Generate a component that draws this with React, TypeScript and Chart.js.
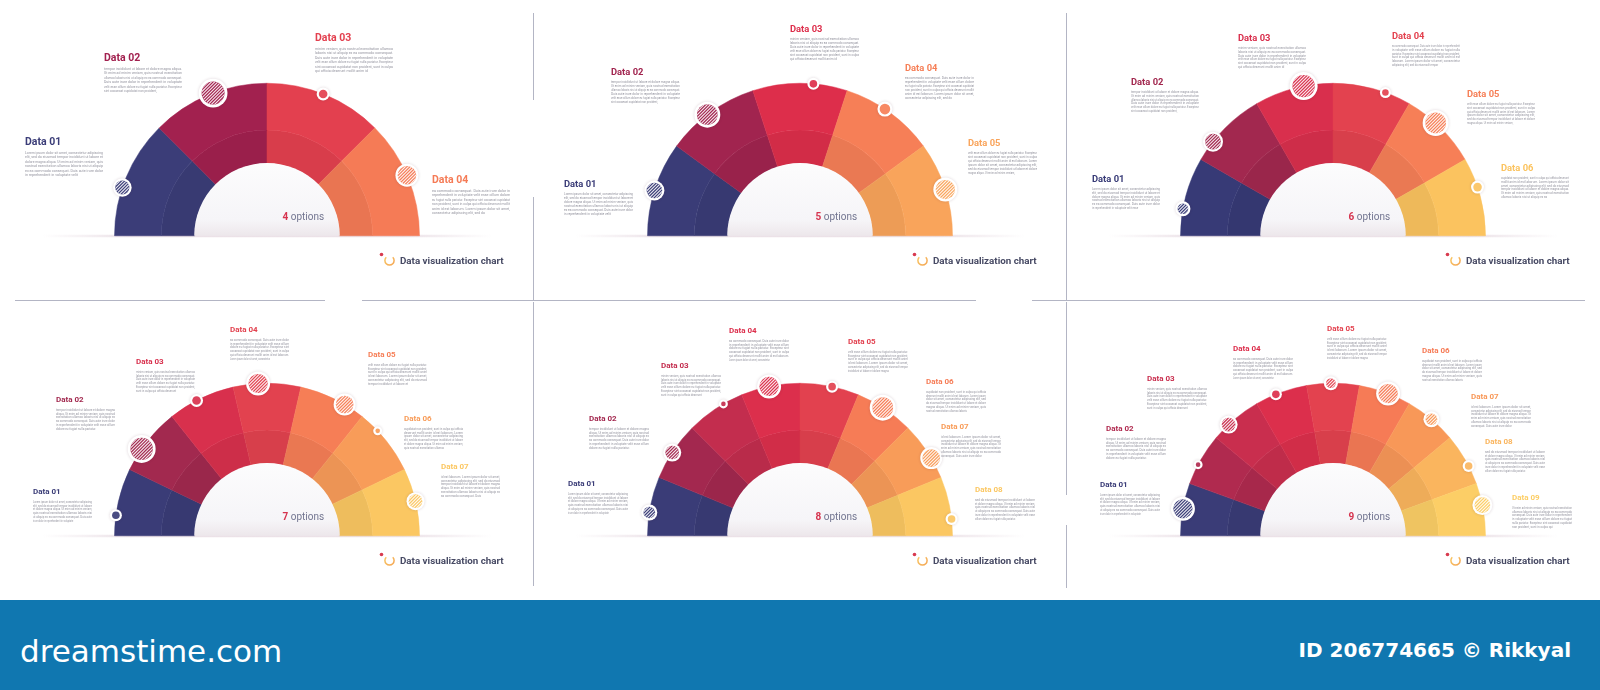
import React, { useEffect, useRef } from "react";
import { Chart, registerables } from "chart.js";

Chart.register(...registerables);

// ---------------- data ----------------
const categories4 = ["Data 01", "Data 02", "Data 03", "Data 04"];
const categories5 = ["Data 01", "Data 02", "Data 03", "Data 04", "Data 05"];
const categories6 = ["Data 01", "Data 02", "Data 03", "Data 04", "Data 05", "Data 06"];
const categories7 = ["Data 01", "Data 02", "Data 03", "Data 04", "Data 05", "Data 06", "Data 07"];
const categories8 = ["Data 01", "Data 02", "Data 03", "Data 04", "Data 05", "Data 06", "Data 07", "Data 08"];
const categories9 = ["Data 01", "Data 02", "Data 03", "Data 04", "Data 05", "Data 06", "Data 07", "Data 08", "Data 09"];

const values4 = [1, 1, 1, 1];
const values5 = [1, 1, 1, 1, 1];
const values6 = [1, 1, 1, 1, 1, 1];
const values7 = [1, 1, 1, 1, 1, 1, 1];
const values8 = [1, 1, 1, 1, 1, 1, 1, 1];
const values9 = [1, 1, 1, 1, 1, 1, 1, 1, 1];

const optionCounts = [4, 5, 6, 7, 8, 9];

const optionsWord = "options";
const footerTitle = "Data visualization chart";
const bannerBrand = "dreamstime.com";
const bannerCredit = "ID 206774665 © Rikkyal";
const LOREM =
  "Lorem ipsum dolor sit amet, consectetur adipiscing elit, sed do eiusmod tempor incididunt ut labore et dolore magna aliqua. Ut enim ad minim veniam, quis nostrud exercitation ullamco laboris nisi ut aliquip ex ea commodo consequat. Duis aute irure dolor in reprehenderit in voluptate velit esse cillum dolore eu fugiat nulla pariatur. Excepteur sint occaecat cupidatat non proident, sunt in culpa qui officia deserunt mollit anim id est laborum.";

// ---------------- styles ----------------
const palette4 = ["#3b3d78", "#a2214f", "#e3404f", "#f57b56"];
const palette5 = ["#3a3c77", "#a1244f", "#dd2e4b", "#f67f57", "#f9a45b"];
const palette6 = ["#373a76", "#a2284f", "#d92f4d", "#e3424f", "#f67f57", "#fbc35f"];
const palette7 = ["#3a3c77", "#a2294f", "#d8304d", "#e2424f", "#f67e56", "#f89c59", "#fbc762"];
const palette8 = ["#3a3c77", "#a3284f", "#c32d4e", "#dc2f4c", "#e2414f", "#f67c56", "#f89c59", "#fbc762"];
const palette9 = ["#3a3c77", "#b02a4f", "#c92e4e", "#dc2f4c", "#e3424f", "#f67b56", "#f89858", "#fab55e", "#fcce66"];

const PANEL_W = 533;
const PANEL_H = 300;
const CX = 267;
const CY = 236;
const R_OUT = 153;
const R_IN = 72.5;

type Bubble = [number, number, number]; // fraction along segment, radius, hatched
interface PanelCfg {
  ox: number;
  oy: number;
  categories: string[];
  values: number[];
  count: number;
  colors: string[];
  titleSize: number;
  paraW: number;
  paraGap: number;
  paraOff: number;
  labelPos: [number, number][];
  bubbles: Bubble[];
}

const panels: PanelCfg[] = [
  {
    ox: 0, oy: 0, categories: categories4, values: values4, count: optionCounts[0], colors: palette4,
    titleSize: 10.5, paraW: 78, paraGap: 4.5, paraOff: 11,
    labelPos: [[25, 142], [104, 58], [315, 38], [432, 180]],
    bubbles: [[0.41, 9.3, 1], [0.54, 14.4, 1], [0.48, 6.5, 0], [0.48, 11.5, 1]],
  },
  {
    ox: 533, oy: 0, categories: categories5, values: values5, count: optionCounts[1], colors: palette5,
    titleSize: 9.4, paraW: 69, paraGap: 4, paraOff: 10,
    labelPos: [[31, 184], [78, 72], [257, 29], [372, 68], [435, 143]],
    bubbles: [[0.48, 10, 1], [0.46, 13, 1], [0.64, 6, 0], [0.44, 7.5, 0], [0.51, 12, 1]],
  },
  {
    ox: 1066, oy: 0, categories: categories6, values: values6, count: optionCounts[2], colors: palette6,
    titleSize: 9.4, paraW: 68, paraGap: 3.9, paraOff: 10,
    labelPos: [[26, 179], [65, 82], [172, 38], [326, 36], [401, 94], [435, 168]],
    bubbles: [[0.34, 7.5, 1], [0.27, 10, 1], [0.63, 14, 1], [0.67, 5.5, 0], [0.41, 13, 1], [0.38, 6.5, 0]],
  },
  {
    ox: 0, oy: 300, categories: categories7, values: values7, count: optionCounts[3], colors: palette7,
    titleSize: 8, paraW: 59, paraGap: 3.8, paraOff: 10,
    labelPos: [[33, 192], [56, 100], [136, 62], [230, 30], [368, 55], [404, 119], [441, 167]],
    bubbles: [[0.3, 6, 0], [0.35, 14, 1], [0.43, 6.5, 0], [0.37, 12, 1], [0.69, 11, 1], [0.31, 4.5, 0], [0.49, 9, 1]],
  },
  {
    ox: 533, oy: 300, categories: categories8, values: values8, count: optionCounts[4], colors: palette8,
    titleSize: 8, paraW: 60, paraGap: 3.8, paraOff: 10,
    labelPos: [[35, 184], [56, 119], [128, 66], [196, 31], [315, 42], [393, 82], [408, 127], [442, 190]],
    bubbles: [[0.39, 8, 1], [0.47, 9, 1], [0.66, 4.5, 0], [0.48, 12, 1], [0.54, 6, 0], [0.46, 13, 1], [0.64, 11, 1], [0.72, 6, 0]],
  },
  {
    ox: 1066, oy: 300, categories: categories9, values: values9, count: optionCounts[5], colors: palette9,
    titleSize: 8, paraW: 60, paraGap: 3.8, paraOff: 10,
    labelPos: [[34, 185], [40, 129], [81, 79], [167, 49], [261, 29], [356, 51], [405, 97], [419, 142], [446, 198]],
    bubbles: [[0.51, 12, 1], [0.39, 4.5, 0], [0.34, 9, 1], [0.4, 6, 0], [0.46, 7, 1], [0.56, 12, 1], [0.51, 8, 1], [0.64, 6, 0], [0.42, 10, 1]],
  },
];

function shade(hex: string, amt: number): string {
  const n = parseInt(hex.slice(1), 16);
  let r = (n >> 16) & 255, g = (n >> 8) & 255, b = n & 255;
  if (amt < 0) {
    r *= 1 + amt; g *= 1 + amt; b *= 1 + amt;
  } else {
    r += (255 - r) * amt; g += (255 - g) * amt; b += (255 - b) * amt;
  }
  const h = (v: number) => Math.round(v).toString(16).padStart(2, "0");
  return "#" + h(r) + h(g) + h(b);
}

function drawBubble(ctx: CanvasRenderingContext2D, x: number, y: number, rad: number, color: string, hatched: number) {
  ctx.save();
  ctx.shadowColor = "rgba(70,30,50,0.18)";
  ctx.shadowBlur = 3;
  ctx.beginPath();
  ctx.arc(x, y, rad, 0, Math.PI * 2);
  ctx.fillStyle = "#ffffff";
  ctx.fill();
  ctx.shadowColor = "transparent";
  ctx.shadowBlur = 0;
  const inner = rad - Math.max(2.2, rad * 0.2);
  ctx.beginPath();
  ctx.arc(x, y, inner, 0, Math.PI * 2);
  ctx.clip();
  ctx.fillStyle = hatched ? color : shade(color, 0.08);
  ctx.fillRect(x - rad, y - rad, rad * 2, rad * 2);
  if (hatched) {
    ctx.strokeStyle = "rgba(255,255,255,0.9)";
    ctx.lineWidth = 1.1;
    const step = 3.2;
    for (let k = -2 * rad; k <= 2 * rad; k += step) {
      ctx.beginPath();
      ctx.moveTo(x + k - rad, y + rad);
      ctx.lineTo(x + k + rad, y - rad);
      ctx.stroke();
    }
  }
  ctx.restore();
}

function makeDecor(cfg: PanelCfg) {
  return {
    id: "decor",
    beforeDatasetsDraw(chart: any) {
      const ctx: CanvasRenderingContext2D = chart.ctx;
      const a = chart.getDatasetMeta(0).data[0];
      const cx = a.x, cy = a.y;
      ctx.save();
      const g = ctx.createLinearGradient(cx - 225, 0, cx + 225, 0);
      g.addColorStop(0, "rgba(232,220,227,0)");
      g.addColorStop(0.2, "rgba(232,220,227,0.85)");
      g.addColorStop(0.8, "rgba(232,220,227,0.85)");
      g.addColorStop(1, "rgba(232,220,227,0)");
      ctx.fillStyle = g;
      ctx.fillRect(cx - 225, cy - 1, 450, 2.5);
      ctx.restore();
    },
    afterDatasetsDraw(chart: any) {
      const ctx: CanvasRenderingContext2D = chart.ctx;
      const outerMeta = chart.getDatasetMeta(0);
      const innerMeta = chart.getDatasetMeta(chart.data.datasets.length - 1);
      const a0 = outerMeta.data[0];
      const cx = a0.x, cy = a0.y;
      const ir = innerMeta.data[0].innerRadius;
      // hole
      ctx.save();
      const hg = ctx.createLinearGradient(0, cy - ir, 0, cy);
      hg.addColorStop(0, "#fcfcfd");
      hg.addColorStop(0.78, "#f6f5f8");
      hg.addColorStop(1, "#ede7eb");
      ctx.beginPath();
      ctx.moveTo(cx - ir - 0.5, cy);
      ctx.arc(cx, cy, ir + 0.5, Math.PI, 2 * Math.PI);
      ctx.closePath();
      ctx.fillStyle = hg;
      ctx.fill();
      ctx.restore();
      // bubbles on the outer arc
      outerMeta.data.forEach((el: any, i: number) => {
        const b = cfg.bubbles[i];
        if (!b) return;
        const [f, rad, hatched] = b;
        const ang = el.startAngle + (el.endAngle - el.startAngle) * f;
        const rr = el.outerRadius;
        drawBubble(ctx, cx + Math.cos(ang) * rr, cy + Math.sin(ang) * rr, rad, cfg.colors[i], hatched);
      });
      // placeholder paragraphs
      ctx.save();
      const fs = cfg.paraGap * 0.82;
      ctx.font = `${fs}px Roboto, sans-serif`;
      ctx.fillStyle = "#94949f";
      ctx.textBaseline = "middle";
      const words = LOREM.split(" ");
      cfg.labelPos.forEach((lp, i) => {
        let wi = (i * 11) % words.length;
        for (let k = 0; k < 6; k++) {
          const maxW = k === 5 ? cfg.paraW * 0.68 : cfg.paraW;
          let s = "";
          while (ctx.measureText(s).width < maxW) {
            s += (s ? " " : "") + words[wi % words.length];
            wi++;
          }
          ctx.fillText(s, lp[0], lp[1] + cfg.paraOff + k * cfg.paraGap, maxW);
        }
      });
      ctx.restore();
      // footer icon
      ctx.save();
      const ig = ctx.createLinearGradient(384, 256, 394, 265);
      ig.addColorStop(0, "#f8c962");
      ig.addColorStop(1, "#f4a552");
      ctx.strokeStyle = ig;
      ctx.lineWidth = 1.5;
      ctx.beginPath();
      ctx.arc(389.5, 260.5, 4.6, -0.25 * Math.PI, 1.25 * Math.PI);
      ctx.stroke();
      ctx.beginPath();
      ctx.arc(381.5, 254.5, 1.8, 0, Math.PI * 2);
      ctx.fillStyle = "#d83a4f";
      ctx.fill();
      ctx.restore();
    },
  };
}

function Panel({ cfg }: { cfg: PanelCfg }) {
  const ref = useRef<HTMLCanvasElement>(null);
  useEffect(() => {
    const canvas = ref.current!;
    const outerColors = cfg.colors;
    const innerColors = cfg.colors.map((c) => shade(c, -0.05));
    const chart = new Chart(canvas, {
      type: "doughnut",
      data: {
        labels: cfg.categories,
        datasets: [
          { data: cfg.values, backgroundColor: outerColors, borderColor: outerColors, borderWidth: 0.5, weight: 47 } as any,
          { data: cfg.values, backgroundColor: innerColors, borderColor: innerColors, borderWidth: 0.5, weight: 33.5 } as any,
        ],
      },
      options: {
        responsive: false,
        animation: false,
        events: [],
        rotation: -90,
        circumference: 180,
        cutout: `${(R_IN / R_OUT) * 100}%`,
        layout: {
          padding: {
            left: CX - R_OUT,
            right: PANEL_W - CX - R_OUT,
            top: CY - R_OUT,
            bottom: PANEL_H - CY,
          },
        },
        plugins: { legend: { display: false }, tooltip: { enabled: false } },
      } as any,
      plugins: [makeDecor(cfg) as any],
    });
    return () => chart.destroy();
  }, [cfg]);

  return (
    <div style={{ position: "absolute", left: cfg.ox, top: cfg.oy, width: PANEL_W, height: PANEL_H }}>
      <canvas ref={ref} width={PANEL_W} height={PANEL_H} style={{ position: "absolute", left: 0, top: 0, width: PANEL_W, height: PANEL_H, display: "block" }} />
      {cfg.categories.map((c, i) => (
        <div
          key={c}
          style={{
            position: "absolute",
            left: cfg.labelPos[i][0],
            top: cfg.labelPos[i][1] - cfg.titleSize * 0.6,
            fontSize: cfg.titleSize,
            lineHeight: 1.2,
            fontWeight: 700,
            color: cfg.colors[i],
            whiteSpace: "nowrap",
            fontFamily: "Roboto, sans-serif",
          }}
        >
          {c}
        </div>
      ))}
      <div
        style={{
          position: "absolute",
          left: 282.5,
          top: 217 - 6,
          fontSize: 10,
          lineHeight: "12px",
          whiteSpace: "nowrap",
          fontFamily: "Roboto, sans-serif",
          color: "#727590",
        }}
      >
        <span style={{ color: "#d6334e", fontWeight: 700 }}>{cfg.count}</span> {optionsWord}
      </div>
      <div
        style={{
          position: "absolute",
          left: 400,
          top: 260.5 - 6,
          fontSize: 9.8,
          lineHeight: "12px",
          fontWeight: 700,
          whiteSpace: "nowrap",
          fontFamily: "Roboto, sans-serif",
          color: "#474a64",
        }}
      >
        {footerTitle}
      </div>
    </div>
  );
}

const lineColor = "#b3b5c4";

export default function App() {
  const seps: [number, number, number, number][] = [
    // x, y, w, h
    [532.5, 13, 1.6, 87],
    [532.5, 197, 1.6, 103],
    [532.5, 302, 1.6, 284],
    [1065.5, 13, 1.6, 287],
    [1065.5, 302, 1.6, 193],
    [1065.5, 525, 1.6, 63],
    [15, 299.5, 310, 1.6],
    [362, 299.5, 614, 1.6],
    [1032, 299.5, 553, 1.6],
  ];
  return (
    <div
      style={{
        position: "absolute",
        left: 0,
        top: 0,
        width: 1600,
        height: 690,
        background: "#ffffff",
        overflow: "hidden",
        fontFamily: "Roboto, sans-serif",
      }}
    >
      {panels.map((p, i) => (
        <Panel key={i} cfg={p} />
      ))}
      {seps.map((s, i) => (
        <div key={"s" + i} style={{ position: "absolute", left: s[0], top: s[1], width: s[2], height: s[3], background: lineColor }} />
      ))}
      <div style={{ position: "absolute", left: 0, top: 600, width: 1600, height: 90, background: "#1077b0" }}>
        <div
          style={{
            position: "absolute",
            left: 20,
            top: 36,
            fontSize: 31,
            lineHeight: "31px",
            color: "#ffffff",
            fontFamily: "'DejaVu Sans', sans-serif",
            whiteSpace: "nowrap",
          }}
        >
          {bannerBrand}
        </div>
        <div
          style={{
            position: "absolute",
            right: 29,
            top: 40,
            fontSize: 20,
            lineHeight: "20px",
            fontWeight: 700,
            color: "#ffffff",
            fontFamily: "'DejaVu Sans', sans-serif",
            whiteSpace: "nowrap",
          }}
        >
          {bannerCredit}
        </div>
      </div>
    </div>
  );
}
